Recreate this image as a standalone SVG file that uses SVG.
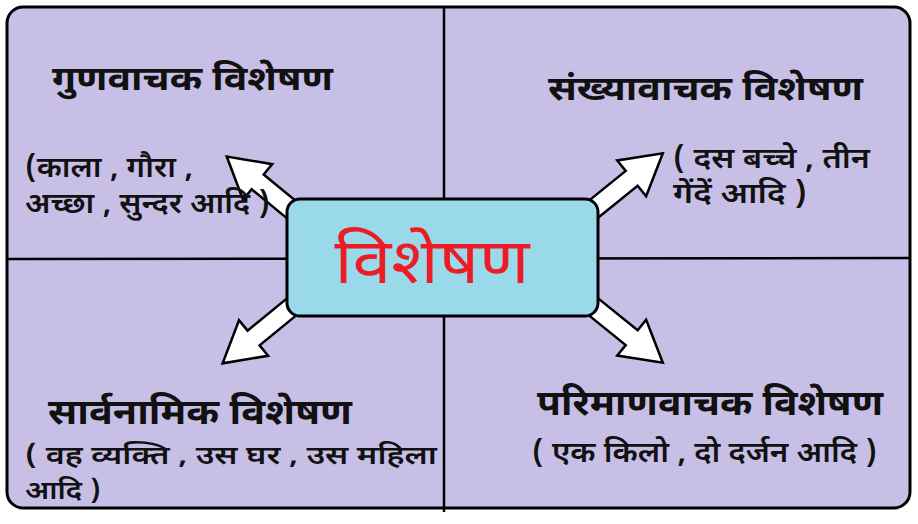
<svg xmlns="http://www.w3.org/2000/svg" xmlns:xlink="http://www.w3.org/1999/xlink" width="918" height="524" viewBox="0 0 918 524">
<style>
.t{font-family:"Noto Sans Devanagari","Noto Sans","Lohit Devanagari",sans-serif;fill:#111;}
.h{font-size:34px;font-weight:bold;}
.e{font-size:28px;font-weight:600;}
.arr{fill:#fff;stroke:#000;stroke-width:2.5;stroke-linejoin:miter;}
.div{stroke:#000;stroke-width:2.5;fill:none;}
</style>
<defs>
<polygon id="arrow" class="arr" points="0,-9.5 60,-9.5 60,-23 100,0 60,23 60,9.5 0,9.5"/>
</defs>
<rect width="918" height="524" fill="#fff"/>
<g id="frame">
<rect x="7" y="7" width="903" height="501" rx="16" fill="#c8bfe7" stroke="#000" stroke-width="3"/>
<line class="div" x1="444" y1="7" x2="444" y2="512"/>
<line class="div" x1="7" y1="259" x2="910" y2="258"/>
</g>
<g id="connectors">
<use xlink:href="#arrow" transform="translate(304,220) rotate(-140.6)"/>
<use xlink:href="#arrow" transform="translate(585,216) rotate(-38.9)"/>
<use xlink:href="#arrow" transform="translate(300,300) rotate(140.7)"/>
<use xlink:href="#arrow" transform="translate(585,300) rotate(38.9)"/>
</g>
<g id="center">
<rect x="287" y="199" width="311" height="117" rx="13" fill="#99d9ea" stroke="#000" stroke-width="3"/>
<text x="432" y="283" text-anchor="middle" class="t" style="font-size:62px;fill:#ed1c24" textLength="195" lengthAdjust="spacingAndGlyphs">विशेषण</text>
</g>
<g id="gunvachak">
<text x="52" y="90" class="t h" textLength="281" lengthAdjust="spacingAndGlyphs">गुणवाचक विशेषण</text>
<text x="25" y="177" class="t e" textLength="168" lengthAdjust="spacingAndGlyphs">(काला , गौरा ,</text>
<text x="25" y="213" class="t e" textLength="245" lengthAdjust="spacingAndGlyphs">अच्छा , सुन्दर आदि )</text>
</g>
<g id="sankhyavachak">
<text x="548" y="100" class="t h" textLength="315" lengthAdjust="spacingAndGlyphs">संख्यावाचक विशेषण</text>
<text x="673" y="168" class="t e" textLength="197" lengthAdjust="spacingAndGlyphs">( दस बच्चे , तीन</text>
<text x="673" y="203" class="t e" textLength="134" lengthAdjust="spacingAndGlyphs">गेंदें आदि )</text>
</g>
<g id="sarvanamik">
<text x="48" y="424" class="t h" style="font-size:35px" textLength="304" lengthAdjust="spacingAndGlyphs">सार्वनामिक विशेषण</text>
<text x="25" y="464" class="t e" style="font-size:26px" textLength="412" lengthAdjust="spacingAndGlyphs">( वह  व्यक्ति , उस घर , उस महिला</text>
<text x="25" y="499" class="t e" style="font-size:26px" textLength="76" lengthAdjust="spacingAndGlyphs">आदि )</text>
</g>
<g id="parimanvachak">
<text x="537" y="415" class="t h" style="font-size:35px" textLength="346" lengthAdjust="spacingAndGlyphs">परिमाणवाचक विशेषण</text>
<text x="532" y="462" class="t e" style="font-size:29px" textLength="345" lengthAdjust="spacingAndGlyphs">( एक किलो , दो दर्जन आदि )</text>
</g>
</svg>
